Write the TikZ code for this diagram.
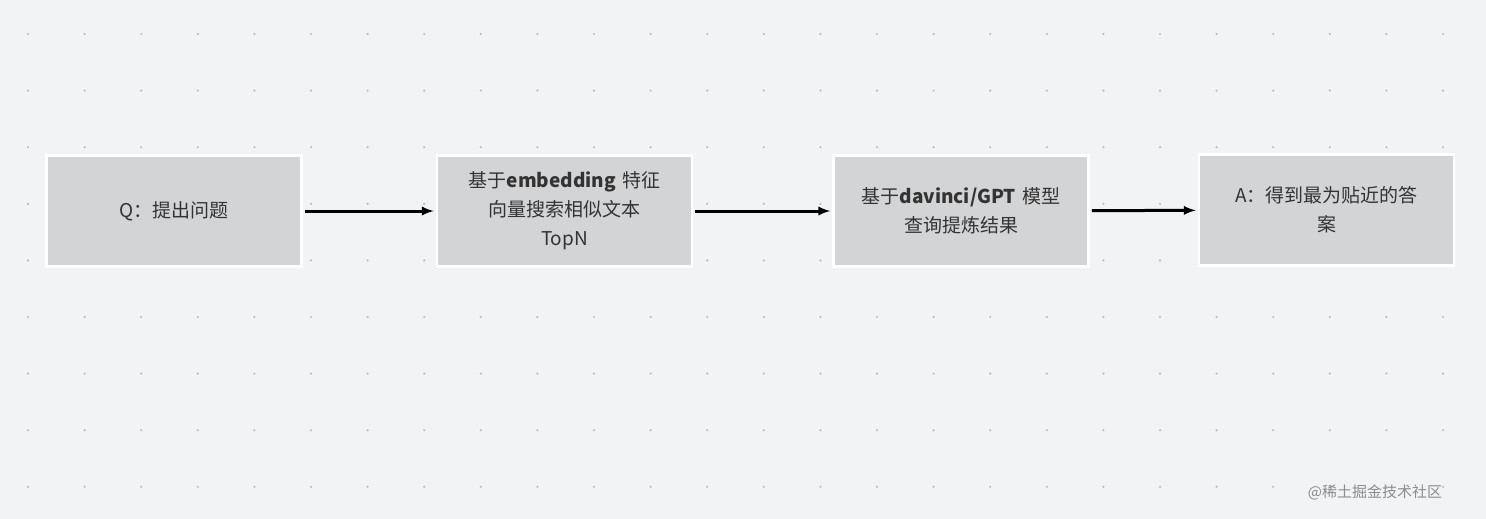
\documentclass[tikz,border=0pt]{standalone}
\usepackage{fontspec}
\setmainfont{Noto Sans CJK SC}
\usetikzlibrary{positioning}
\definecolor{bgcol}{HTML}{F2F3F5}
\definecolor{boxcol}{HTML}{D3D4D6}
\definecolor{dotcol}{HTML}{B8BABD}
\begin{document}
\begin{tikzpicture}[x=1pt,y=-1pt,
  stepbox/.style={draw=white,line width=2.5pt,fill=boxcol,minimum width=255pt,minimum height=111pt,
    align=center,text width=245pt,font=\fontsize{19}{29}\selectfont,text=black!80},
  flow/.style={-latex,line width=3pt,shorten >=2pt,shorten <=2pt}]
  %background and dot grid
  \fill[bgcol] (0,0) rectangle (1486,519);
  \useasboundingbox (0,0) rectangle (1486,519);
  \foreach \i in {0,...,25}{
    \foreach \j in {0,...,8}{
      \fill[dotcol] (28+56.6*\i,34+56.6*\j) circle (1.2pt);
    }
  }
  %boxes
  \node[stepbox] (question) at (174,211) {Q：提出问题};
  \node[stepbox] (search) at (564.5,211) {基于\textbf{embedding} 特征\\向量搜索相似文本\\TopN};
  \node[stepbox] (refine) at (961,211) {基于\textbf{davinci/GPT} 模型\\查询提炼结果};
  \node[stepbox] (answer) at (1326.5,210) {A：得到最为贴近的答\\案};
  %arrows
  \draw[flow] (question) -- (search);
  \draw[flow] (search) -- (refine);
  \draw[flow] (refine) -- (answer);
  %watermark
  \node[text=black!45,font=\fontsize{15}{18}\selectfont] (mark) at (1375,492) {@稀土掘金技术社区};
\end{tikzpicture}
\end{document}
